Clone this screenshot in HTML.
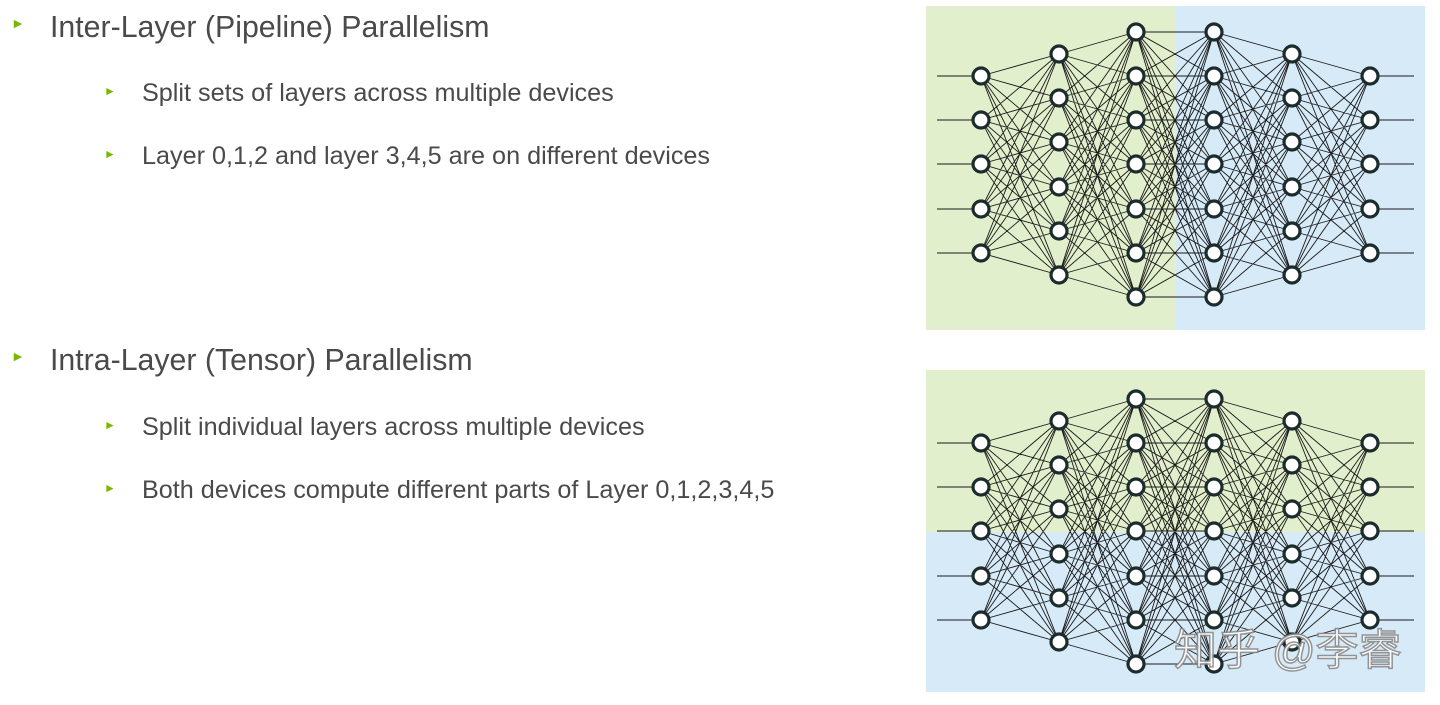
<!DOCTYPE html>
<html><head><meta charset="utf-8"><style>
body{margin:0;width:1440px;height:705px;background:#fff;position:relative;overflow:hidden;font-family:"Liberation Sans","DejaVu Sans",sans-serif;color:#4a4a4a}
.t{position:absolute;white-space:nowrap}
.b{position:absolute;color:#76b900;font-size:14px}
.h{font-size:30.3px}
.s{font-size:25.2px}
svg{position:absolute;left:0;top:0}
.wm{position:absolute;left:1174px;top:616px;font-size:43px;color:#fff;font-family:"Liberation Sans","Noto Sans CJK SC",sans-serif;-webkit-text-stroke:1.5px #8a8a8a;opacity:.9}
</style></head><body>
<div class="b" style="left:11px;top:15px">&#9658;</div><div class="t h" style="left:50px;top:11px">Inter-Layer (Pipeline) Parallelism</div>
<div class="b" style="left:104px;top:84px;font-size:12px">&#9658;</div><div class="t s" style="left:142px;top:79px">Split sets of layers across multiple devices</div>
<div class="b" style="left:104px;top:147px;font-size:12px">&#9658;</div><div class="t s" style="left:142px;top:142px">Layer 0,1,2 and layer 3,4,5 are on different devices</div>
<div class="b" style="left:11px;top:348px">&#9658;</div><div class="t h" style="left:50px;top:344px">Intra-Layer (Tensor) Parallelism</div>
<div class="b" style="left:104px;top:418px;font-size:12px">&#9658;</div><div class="t s" style="left:142px;top:413px">Split individual layers across multiple devices</div>
<div class="b" style="left:104px;top:481px;font-size:12px">&#9658;</div><div class="t s" style="left:142px;top:476px">Both devices compute different parts of Layer 0,1,2,3,4,5</div>
<svg id="g" width="1440" height="705"></svg>
<div class="wm">知乎 @李睿</div>
<script>
var s='';
s+='<rect x="926" y="6" width="250" height="324" fill="#e2efcc"/><rect x="1176" y="6" width="249" height="324" fill="#d6eaf8"/>';
s+='<rect x="926" y="370" width="499" height="162" fill="#e2efcc"/><rect x="926" y="532" width="499" height="160" fill="#d6eaf8"/>';
var xs=[981,1059,1136,1214,1292,1370];
var cols=[[76,120,164,209,253],[54,98,142,187,231,275],[32,76,120,164,209,253,297],[32,76,120,164,209,253,297],[54,98,142,187,231,275],[76,120,164,209,253]];
[0,367].forEach(function(o){
 var l='';
 for(var i=0;i<5;i++){cols[i].forEach(function(a){cols[i+1].forEach(function(b){l+='M'+xs[i]+' '+(a+o)+'L'+xs[i+1]+' '+(b+o);});});}
 cols[0].forEach(function(a){l+='M937 '+(a+o)+'L981 '+(a+o);});
 cols[5].forEach(function(a){l+='M1370 '+(a+o)+'L1414 '+(a+o);});
 s+='<path d="'+l+'" stroke="#1a1a1a" stroke-width="0.9" fill="none"/>';
 for(var i=0;i<6;i++)cols[i].forEach(function(a){s+='<circle cx="'+xs[i]+'" cy="'+(a+o)+'" r="8" fill="#fff" stroke="#1c2b2b" stroke-width="3.2"/>';});
});
document.getElementById('g').innerHTML=s;
</script>
</body></html>
